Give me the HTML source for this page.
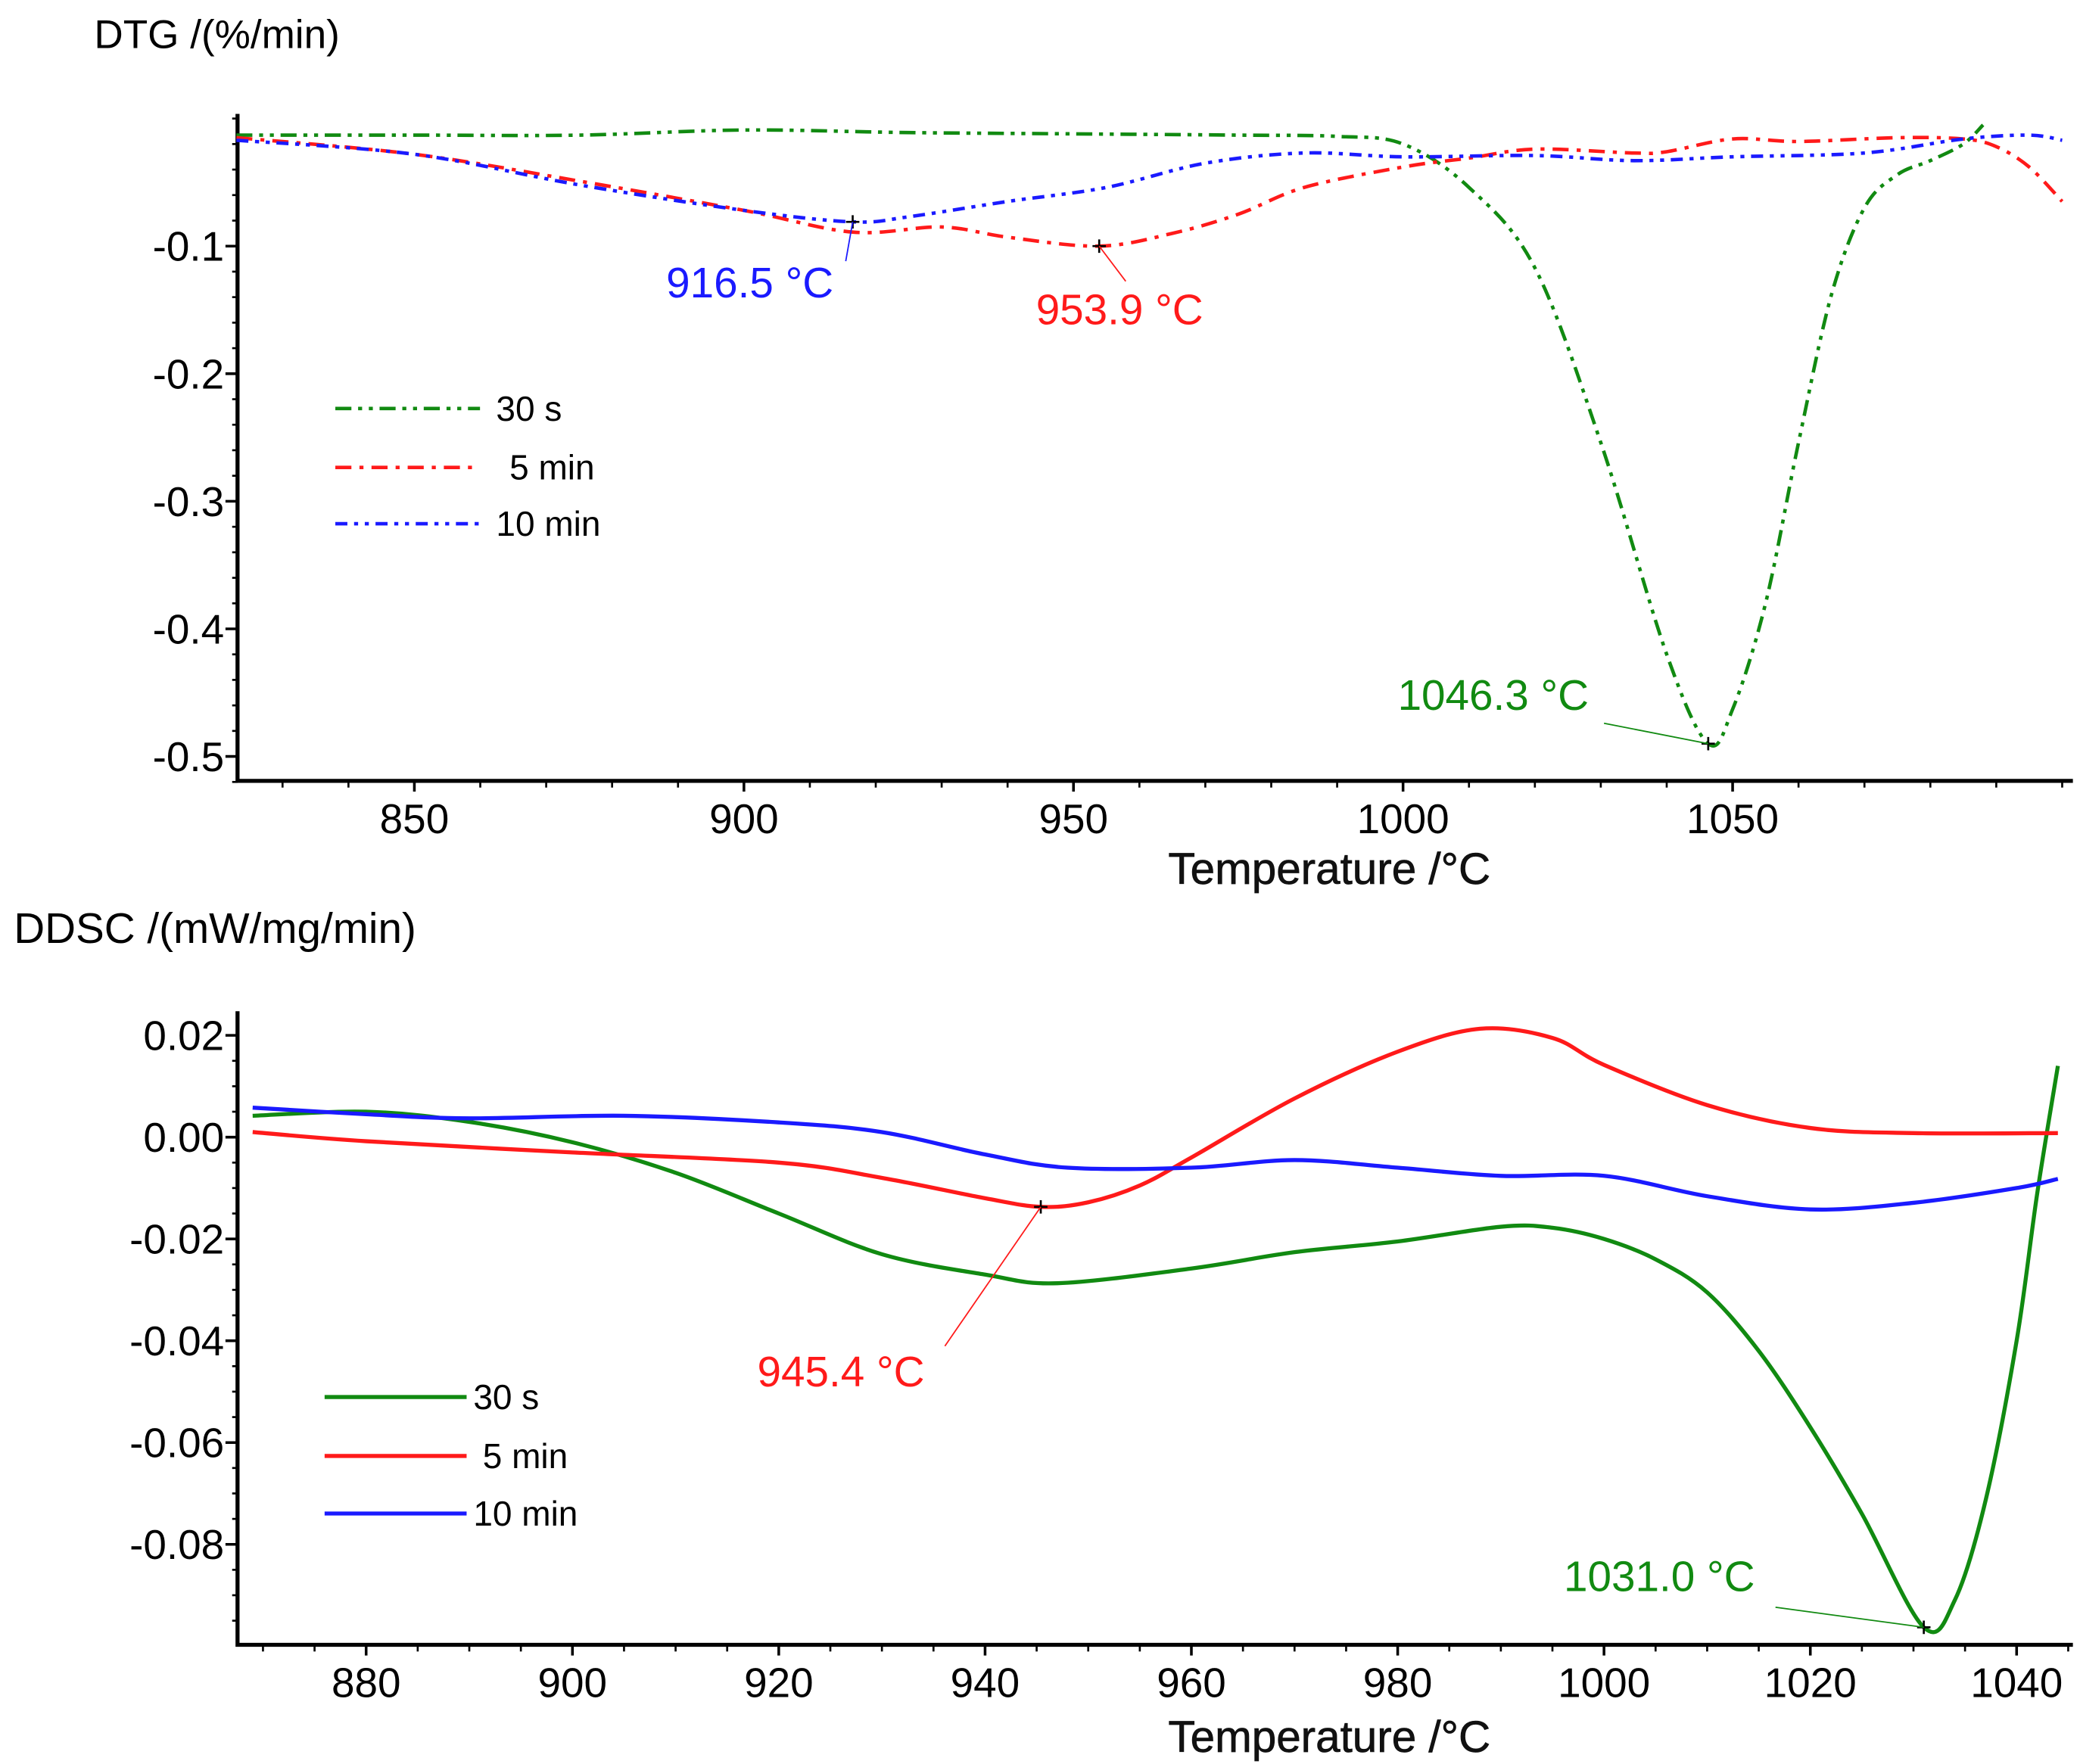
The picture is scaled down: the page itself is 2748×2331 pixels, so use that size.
<!DOCTYPE html>
<html><head><meta charset="utf-8"><style>
html,body{margin:0;padding:0;background:#fff}
svg{display:block}
text{font-family:"Liberation Sans",Arial,sans-serif}
</style></head><body>
<svg id="chart" width="2748" height="2331" viewBox="0 0 1552 1317" xmlns="http://www.w3.org/2000/svg">
<g id="topchart"></g>
<g id="botchart"></g>
</svg>
<script>
// ---- DTG data ----
const dtgT30 = [823,850,875,900,925,950,975,990,1000,1010,1020,1030,1040,1046.3,1050,1055,1060,1065,1070,1075,1080,1085,1088];
const dtgV30 = [-0.013,-0.013,-0.013,-0.009,-0.011,-0.012,-0.013,-0.014,-0.02,-0.054,-0.117,-0.254,-0.42,-0.49,-0.463,-0.38,-0.254,-0.138,-0.07,-0.044,-0.033,-0.02,-0.005];
const dtgT5 = [823,850,875,900,916.5,930,940,953.9,965,975,985,1000,1010,1020,1035,1040,1050,1060,1075,1085,1090,1095,1100];
const dtgV5 = [-0.015,-0.028,-0.049,-0.072,-0.089,-0.085,-0.093,-0.1,-0.09,-0.075,-0.054,-0.038,-0.031,-0.024,-0.027,-0.026,-0.016,-0.018,-0.015,-0.016,-0.022,-0.038,-0.065];
const dtgT10 = [823,850,875,900,916.5,925,940,955,970,985,1000,1020,1035,1050,1070,1085,1095,1100];
const dtgV10 = [-0.017,-0.028,-0.052,-0.072,-0.081,-0.077,-0.065,-0.054,-0.035,-0.027,-0.03,-0.029,-0.033,-0.03,-0.027,-0.016,-0.013,-0.017];
const dtgXTicks = [850,900,950,1000,1050];
const dtgYTicks = [-0.1,-0.2,-0.3,-0.4,-0.5];
// ---- DDSC data ----
const dscT30 = [869,880,890,900,910,920,930,940,947,960,970,980,990,995,1000,1005,1010,1015,1020,1025,1031,1034,1037,1040,1042,1044];
const dscV30 = [0.0042,0.005,0.003,-0.001,-0.007,-0.015,-0.023,-0.027,-0.0287,-0.0258,-0.0226,-0.0205,-0.0176,-0.0178,-0.02,-0.024,-0.0305,-0.042,-0.057,-0.074,-0.0963,-0.091,-0.0713,-0.04,-0.011,0.014];
const dscT5 = [869,880,900,920,930,940,945.4,950,955,960,970,980,988,995,1000,1010,1020,1030,1044];
const dscV5 = [0.001,-0.0008,-0.003,-0.005,-0.008,-0.012,-0.0137,-0.0128,-0.0095,-0.004,0.0076,0.0168,0.0213,0.0195,0.0142,0.0063,0.0018,0.0008,0.0008];
const dscT10 = [869,880,890,905,920,930,940,948,960,970,980,990,1000,1010,1020,1030,1040,1044];
const dscV10 = [0.0058,0.0045,0.0037,0.0042,0.0029,0.001,-0.0034,-0.006,-0.006,-0.0045,-0.006,-0.0076,-0.0076,-0.0116,-0.0142,-0.0129,-0.01,-0.0082];
const dscXTicks = [880,900,920,940,960,980,1000,1020,1040];
const dscYTicks = [0.02,0.00,-0.02,-0.04,-0.06,-0.08];

const NS="http://www.w3.org/2000/svg";
function mk(parent,tag,attrs,txt){const e=document.createElementNS(NS,tag);for(const k in attrs)e.setAttribute(k,attrs[k]);if(txt!==undefined)e.textContent=txt;parent.appendChild(e);return e;}
function smooth(pts){let d="M"+pts[0][0]+","+pts[0][1];for(let i=0;i<pts.length-1;i++){const p0=pts[Math.max(0,i-1)],p1=pts[i],p2=pts[i+1],p3=pts[Math.min(pts.length-1,i+2)];const c1x=p1[0]+(p2[0]-p0[0])/6,c1y=p1[1]+(p2[1]-p0[1])/6,c2x=p2[0]-(p3[0]-p1[0])/6,c2y=p2[1]-(p3[1]-p1[1])/6;d+=" C"+c1x+","+c1y+" "+c2x+","+c2y+" "+p2[0]+","+p2[1];}return d;}

function axes(g,x0,x1,y0,y1,sx,sy,xt,yt,yfmt,xmin,xmax,xminor,ymin,ymax,yminor,axisName){
  const ax=mk(g,"path",{d:`M${x0},${y0} L${x0},${y1} L${x1},${y1}`,fill:"none",stroke:"#000","stroke-width":3});
  
  
  for(let v=Math.ceil(xmin/xminor)*xminor;v<=xmax;v+=xminor){const X=sx(v);mk(g,"line",{x1:X,x2:X,y1:y1,y2:y1+5,stroke:"#000","stroke-width":1.5});}
  for(let v=Math.ceil(ymin/yminor)*yminor;v<=ymax+1e-9;v+=yminor){const Y=sy(v);mk(g,"line",{x1:x0-4,x2:x0,y1:Y,y2:Y,stroke:"#000","stroke-width":1.5});}
  xt.forEach(v=>{const X=sx(v);mk(g,"line",{x1:X,x2:X,y1:y1,y2:y1+8,stroke:"#000","stroke-width":2});
    const t=mk(g,"text",{x:X,y:y1+39,"text-anchor":"middle","font-size":31},String(v));
    
    });
  yt.forEach(v=>{const Y=sy(v);mk(g,"line",{x1:x0-9,x2:x0,y1:Y,y2:Y,stroke:"#000","stroke-width":2});
    const t=mk(g,"text",{x:x0-10,y:Y+11,"text-anchor":"end","font-size":31},yfmt(v));
    
    });
}
function series(g,T,V,sx,sy,color,dash,w,name){
  const p=mk(g,"path",{d:smooth(T.map((t,i)=>[sx(t),sy(V[i])])),fill:"none",stroke:color,"stroke-width":w,"stroke-dasharray":dash||"none"});
  
  
}
function marker(g,X,Y){mk(g,"path",{d:`M${X-5},${Y} L${X+5},${Y} M${X},${Y-5} L${X},${Y+5}`,stroke:"#000","stroke-width":1.5});}
function label(g,x,y,txt,color,name){const t=mk(g,"text",{x:x,y:y,"font-size":32,fill:color},txt);
  
  }
function legend(g,items,x0,x1,tx,ys,dashes,w,name){items.forEach((it,i)=>{
  const l=mk(g,"line",{x1:x0,x2:x1,y1:ys[i],y2:ys[i],stroke:it[1],"stroke-width":w,"stroke-dasharray":dashes[i]||"none"});
  
  
  const t=mk(g,"text",{x:tx[i],y:ys[i]+9,"font-size":26},it[0]);
  
  });}

// ---- top chart ----
const topG=document.getElementById("topchart");
const tx=t=>309+(t-850)*4.92, ty=v=>88.5-v*952.5;
axes(topG,177,1547,85,583,tx,ty,dtgXTicks,dtgYTicks,v=>v.toFixed(1),823,1101,10,-0.52,0,0.02,"dtg");
const dG="12 5 3 5 3 5", dR="12 6 3 6", dB="9 5 3 5 3 5";
series(topG,dtgT30,dtgV30,tx,ty,"#118a11",dG,2.6,"dtg-series-30s");
series(topG,dtgT5,dtgV5,tx,ty,"#ff1a1a",dR,2.6,"dtg-series-5min");
series(topG,dtgT10,dtgV10,tx,ty,"#1a1aff",dB,2.6,"dtg-series-10min");
const t1=mk(topG,"text",{x:70,y:36,"font-size":30},"DTG /(%/min)");


const t2=mk(topG,"text",{x:992,y:660,"font-size":33,"text-anchor":"middle",fill:"#111",stroke:"#111","stroke-width":0.4},"Temperature /°C");


legend(topG,[["30 s","#118a11"],[" 5 min","#ff1a1a"],["10 min","#1a1aff"]],250,358,[370,380,370],[305,349,391],[dG,dR,dB],2.6,"dtg");
marker(topG,tx(916.5),ty(-0.081));mk(topG,"line",{x1:tx(916.5),y1:ty(-0.081),x2:631,y2:195,stroke:"#1a1aff","stroke-width":1});
label(topG,497,222,"916.5 °C","#1a1aff","dtg-peak-label-10min");
marker(topG,tx(953.9),ty(-0.1));mk(topG,"line",{x1:tx(953.9),y1:ty(-0.1),x2:840,y2:210,stroke:"#ff1a1a","stroke-width":1});
label(topG,773,242,"953.9 °C","#ff1a1a","dtg-peak-label-5min");
marker(topG,tx(1046.3),ty(-0.49));mk(topG,"line",{x1:tx(1046.3),y1:ty(-0.49),x2:1197,y2:540,stroke:"#118a11","stroke-width":1});
label(topG,1043,530,"1046.3 °C","#118a11","dtg-peak-label-30s");

// ---- bottom chart ----
const botG=document.getElementById("botchart");
const bx=t=>427+(t-900)*7.7, by=v=>849-v*3800;
axes(botG,177,1547,755,1228,bx,by,dscXTicks,dscYTicks,v=>v.toFixed(2),869,1045,5,-0.099,0.024,0.005,"ddsc");
series(botG,dscT30,dscV30,bx,by,"#118a11",null,3,"ddsc-series-30s");
series(botG,dscT5,dscV5,bx,by,"#ff1a1a",null,3,"ddsc-series-5min");
series(botG,dscT10,dscV10,bx,by,"#1a1aff",null,3,"ddsc-series-10min");
const t3=mk(botG,"text",{x:10,y:704,"font-size":32},"DDSC /(mW/mg/min)");


const t4=mk(botG,"text",{x:992,y:1308,"font-size":33,"text-anchor":"middle",fill:"#111",stroke:"#111","stroke-width":0.4},"Temperature /°C");


legend(botG,[["30 s","#118a11"],[" 5 min","#ff1a1a"],["10 min","#1a1aff"]],242,348,[353,360,353],[1043,1087,1130],[null,null,null],3,"ddsc");
marker(botG,bx(945.4),by(-0.0137));mk(botG,"line",{x1:bx(945.4),y1:by(-0.0137),x2:705,y2:1005,stroke:"#ff1a1a","stroke-width":1});
label(botG,565,1035,"945.4 °C","#ff1a1a","ddsc-peak-label-5min");
marker(botG,bx(1031),by(-0.0963));mk(botG,"line",{x1:bx(1031),y1:by(-0.0963),x2:1325,y2:1200,stroke:"#118a11","stroke-width":1});
label(botG,1167,1188,"1031.0 °C","#118a11","ddsc-peak-label-30s");
</script>
</body></html>
